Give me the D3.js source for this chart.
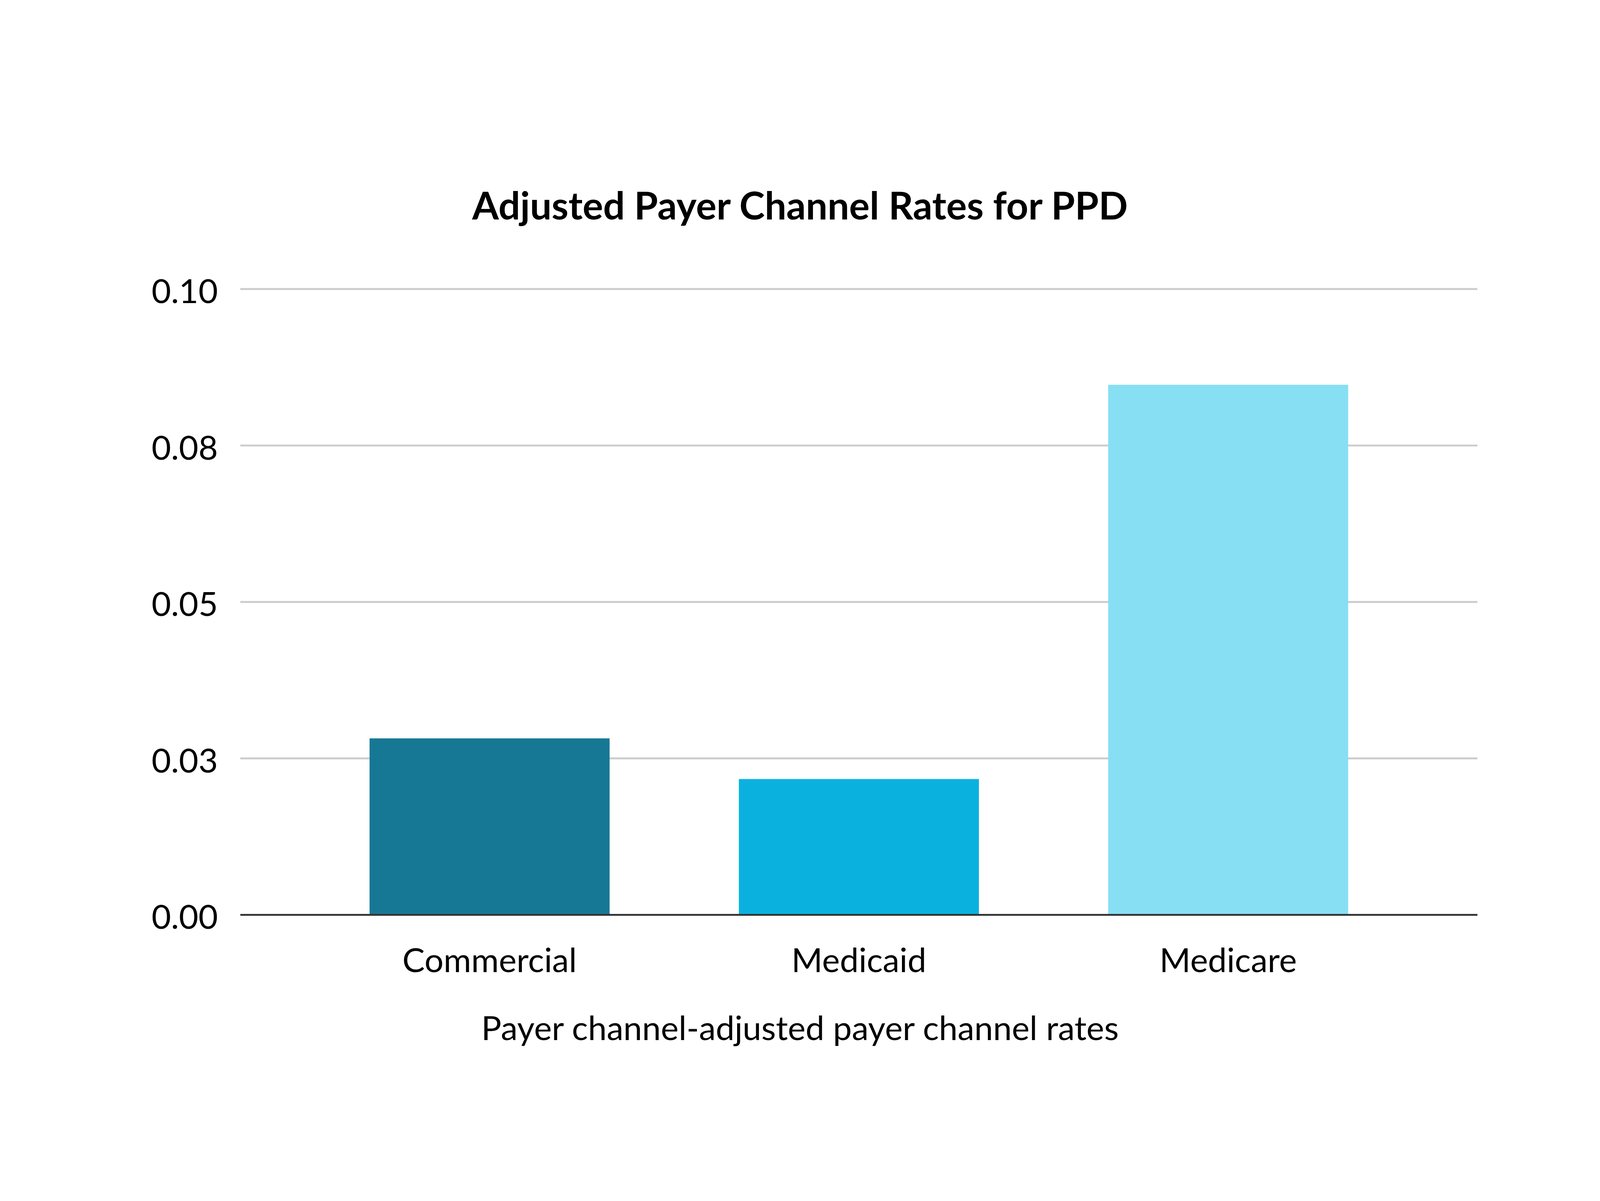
<!DOCTYPE html>
<html>
<head>
<meta charset="utf-8">
<script src="https://cdn.jsdelivr.net/npm/d3@7"></script>
<style>
  html, body { margin: 0; padding: 0; background: #fff; overflow: hidden; }
  svg { display: block; width: 100vw; height: 100vh; }
  text { font-family: Lato, "Open Sans", sans-serif; }
</style>
</head>
<body>
<svg viewBox="0 0 5000 3075" preserveAspectRatio="xMidYMid meet"></svg>
<script>
// data
const categories = ["Commercial", "Medicaid", "Medicare"];
const rates = [0.0282, 0.0217, 0.0847];
const barColors = ["#177895", "#0bb1de", "#87dff4"];
const yTicks = [0, 0.025, 0.05, 0.075, 0.1];
const yTickLabels = ["0.00", "0.03", "0.05", "0.08", "0.10"];

const svg = d3.select("svg");
const W = 5000;
const plotLeft = 751, plotRight = 4617, plotTop = 564, plotBottom = 2520;

const x = d3.scaleBand()
  .domain(categories)
  .range([plotLeft, plotRight])
  .paddingInner(0.35)
  .paddingOuter(0.35);

const y = d3.scaleLinear()
  .domain([0, 0.1])
  .range([plotBottom, plotTop]);

// gridlines
svg.append("g")
  .selectAll("line")
  .data(yTicks.filter((d) => d > 0))
  .enter()
  .append("line")
  .attr("x1", plotLeft)
  .attr("x2", plotRight)
  .attr("y1", (d) => y(d))
  .attr("y2", (d) => y(d))
  .attr("stroke", "#cccccc")
  .attr("stroke-width", 6);

// y tick labels
svg.append("g")
  .selectAll("text")
  .data(yTicks)
  .enter()
  .append("text")
  .attr("x", plotLeft - 70)
  .attr("y", (d) => y(d) + 44)
  .attr("text-anchor", "end")
  .attr("font-size", "105px")
  .attr("fill", "#000")
  .text((d, i) => yTickLabels[i]);

// bars
svg.append("g")
  .selectAll("rect")
  .data(rates)
  .enter()
  .append("rect")
  .attr("x", (d, i) => x(categories[i]))
  .attr("y", (d) => y(d))
  .attr("width", x.bandwidth())
  .attr("height", (d) => y(0) - y(d))
  .attr("fill", (d, i) => barColors[i]);

// baseline
svg.append("line")
  .attr("x1", plotLeft)
  .attr("x2", plotRight)
  .attr("y1", y(0))
  .attr("y2", y(0))
  .attr("stroke", "#333333")
  .attr("stroke-width", 6);

// category labels
svg.append("g")
  .selectAll("text")
  .data(categories)
  .enter()
  .append("text")
  .attr("x", (d) => x(d) + x.bandwidth() / 2)
  .attr("y", 2699)
  .attr("text-anchor", "middle")
  .attr("font-size", "105px")
  .attr("fill", "#000")
  .text((d) => d);

// axis title
svg.append("text")
  .attr("x", W / 2)
  .attr("y", 2912)
  .attr("text-anchor", "middle")
  .attr("font-size", "105px")
  .attr("fill", "#000")
  .text("Payer channel-adjusted payer channel rates");

// chart title
svg.append("text")
  .attr("x", W / 2)
  .attr("y", 347)
  .attr("text-anchor", "middle")
  .attr("font-size", "120px")
  .attr("font-weight", "bold")
  .attr("fill", "#000")
  .text("Adjusted Payer Channel Rates for PPD");
</script>
</body>
</html>
